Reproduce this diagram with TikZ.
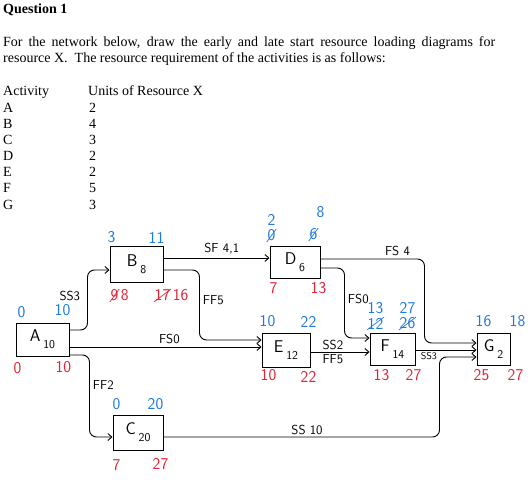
\documentclass[tikz,border=0pt]{standalone}
\usepackage{fontspec}
\setmainfont{Liberation Serif}
\usetikzlibrary{arrows.meta}
\usetikzlibrary{positioning}
\usetikzlibrary{calc}
\usetikzlibrary{shapes.misc}

\definecolor{earlyblue}{RGB}{28,120,226}
\definecolor{latered}{RGB}{226,34,50}
\newcommand{\dur}[1]{\,\raisebox{-7pt}{\fontsize{12}{12}\selectfont #1}}

\begin{document}
\begin{tikzpicture}[x=1pt,y=-1pt,>={Straight Barb[length=4pt,width=7pt]},
                    txt/.style={anchor=base west,inner sep=0,font=\fontsize{14}{16}\selectfont},
                    act/.style={draw,line width=1pt,inner sep=0,font=\sffamily\fontsize{17}{17}\selectfont},
                    link/.style={->,line width=0.9pt,rounded corners=7pt},
                    rel/.style={font=\sffamily\fontsize{13}{13}\selectfont,inner sep=1pt},
                    early/.style={text=earlyblue,font=\sffamily\fontsize{16.5}{16.5}\selectfont,inner sep=0.5pt},
                    late/.style={early,text=latered},
                    xout/.style={strike out,draw=#1,line width=0.7pt},
                    ]
    \useasboundingbox (0,0) rectangle (528,484);

    % question text and resource table
    \node[txt,font=\bfseries\fontsize{14}{16}\selectfont] (title) at (3,14) {Question 1};
    \node[txt] (intro1) at (3,47) {\makebox[492pt][s]{For the network below, draw the early and late start resource loading diagrams for}};
    \node[txt] (intro2) at (3,63) {resource X.\ \ The resource requirement of the activities is as follows:};
    \node[txt] (colact) at (3,96) {Activity};
    \node[txt] (colunit) at (88,96) {Units of Resource X};
    \foreach \act/\units [count=\i] in {A/2,B/4,C/3,D/2,E/2,F/5,G/3}{
      \node[txt] (row\act) at (3,96+16.15*\i) {\act};
      \node[txt] (val\act) at (89,96+16.15*\i) {\units};
    }

    % activities
    \node[act,minimum width=53pt,minimum height=33pt] (a) at (42.5,339.5) {A\dur{10}};
    \node[act,minimum width=53pt,minimum height=35pt] (b) at (136.5,264.5) {B\dur{8}};
    \node[act,minimum width=50pt,minimum height=35pt] (c) at (138,432.5) {C\dur{20}};
    \node[act,minimum width=50pt,minimum height=31pt] (d) at (295,262.5) {D\dur{6}};
    \node[act,minimum width=48pt,minimum height=34pt] (e) at (286,350) {E\dur{12}};
    \node[act,minimum width=45pt,minimum height=32pt] (f) at (392.5,349) {F\dur{14}};
    \node[act,minimum width=33pt,minimum height=32pt] (g) at (493.5,349) {G\dur{2}};

    % early times
    \node[early] (aes) at ([xshift=6pt,yshift=10pt]a.north west) {0};
    \node[early] (aef) at ([xshift=-7pt,yshift=12pt]a.north east) {10};
    \node[early] (bes) at ([xshift=2pt,yshift=9pt]b.north west) {3};
    \node[early] (bef) at ([xshift=-7pt,yshift=9pt]b.north east) {11};
    \node[early] (ces) at ([xshift=4pt,yshift=10pt]c.north west) {0};
    \node[early] (cef) at ([xshift=-8pt,yshift=10pt]c.north east) {20};
    \node[early,xout=earlyblue] (desold) at ([xshift=2pt,yshift=11pt]d.north west) {0};
    \node[early,above=3pt of desold] (des) {2};
    \node[early,xout=earlyblue] (defold) at ([xshift=-7pt,yshift=12pt]d.north east) {6};
    \node[early] (def) at ([xshift=7pt,yshift=22pt]defold.center) {8};
    \node[early,xout=earlyblue] (fesold) at ([xshift=6pt,yshift=9pt]f.north west) {12};
    \node[early,above=3pt of fesold] (fes) {13};
    \node[early,xout=earlyblue] (fefold) at ([xshift=-8pt,yshift=9pt]f.north east) {26};
    \node[early,above=3pt of fefold] (fef) {27};
    \node[early] (ees) at ([xshift=6pt,yshift=11pt]e.north west) {10};
    \node[early] (eef) at ([xshift=-2pt,yshift=11pt]e.north east) {22};
    \node[early] (ges) at ([xshift=7pt,yshift=11pt]g.north west) {16};
    \node[early] (gef) at ([xshift=7pt,yshift=11pt]g.north east) {18};

    % late times
    \node[late] (als) at ([xshift=2pt,yshift=-12pt]a.south west) {0};
    \node[late] (alf) at ([xshift=-6pt,yshift=-11pt]a.south east) {10};
    \node[late,xout=latered] (blsold) at ([xshift=5pt,yshift=-13pt]b.south west) {9};
    \node[late,right=1pt of blsold] (bls) {8};
    \node[late,xout=latered] (blfold) at ([xshift=-1pt,yshift=-13pt]b.south east) {17};
    \node[late,right=1pt of blfold] (blf) {16};
    \node[late] (cls) at ([xshift=4pt,yshift=-15pt]c.south west) {7};
    \node[late] (clf) at ([xshift=-3pt,yshift=-14pt]c.south east) {27};
    \node[late] (dls) at ([xshift=4pt,yshift=-10pt]d.south west) {7};
    \node[late] (dlf) at ([xshift=-2pt,yshift=-10pt]d.south east) {13};
    \node[late] (els) at ([xshift=7pt,yshift=-8pt]e.south west) {10};
    \node[late] (elf) at ([xshift=-2pt,yshift=-9pt]e.south east) {22};
    \node[late] (fls) at ([xshift=12pt,yshift=-10pt]f.south west) {13};
    \node[late] (flf) at ([xshift=-2pt,yshift=-10pt]f.south east) {27};
    \node[late] (gls) at ([xshift=5pt,yshift=-10pt]g.south west) {25};
    \node[late] (glf) at ([xshift=5pt,yshift=-10pt]g.south east) {27};

    % relations
    \draw[link] ([yshift=9.5pt]a.east) -| ([xshift=-22pt,yshift=-5.5pt]b.west)
                node[rel,pos=0.78,left=6pt] (ab) {SS3} -- ([yshift=-5.5pt]b.west);
    \draw[link] ([yshift=-7.5pt]a.east) -- ([yshift=3pt]e.west)
                node[rel,pos=0.52,above=2pt] (ae) {FS0};
    \draw[link] ([yshift=-15.5pt]a.east) -| ([xshift=-23pt,yshift=-4.5pt]c.west)
                node[rel,pos=0.68,right=2pt] (ac) {FF2} -- ([yshift=-4.5pt]c.west);
    \draw[link] ([yshift=6.5pt]b.east) -- ([yshift=4.5pt]d.west)
                node[rel,pos=0.55,above=2pt] (bd) {SF 4,1};
    \draw[link] ([yshift=-5.5pt]b.east) -| ([xshift=-62pt,yshift=10pt]e.west)
                node[rel,pos=0.715,right=2pt] (be) {FF5} -- ([yshift=10pt]e.west);
    \draw[link] ([yshift=-5.5pt]d.east) -| ([xshift=-25pt,yshift=11pt]f.west)
                node[rel,pos=0.72,right=2pt] (df) {FS0} -- ([yshift=11pt]f.west);
    \draw[link] ([yshift=3.5pt]d.east) -| ([xshift=-52pt,yshift=6pt]g.west)
                node[rel,pos=0.37,above=2pt] (dg) {FS 4} -- ([yshift=6pt]g.west);
    \draw[link] ([yshift=-2pt]e.east) -- ([yshift=-3pt]f.west)
                node[rel,pos=0.38,above=1pt] (efss) {SS2}
                node[rel,pos=0.38,below=1pt] (efff) {FF5};
    \draw[link] ([yshift=-1pt]f.east) -- ([yshift=-1pt]g.west)
                node[rel,pos=0.22,below=1pt,font=\sffamily\fontsize{10}{10}\selectfont] (fg) {SS3};
    \draw[link] ([yshift=-4.5pt]c.east) -| ([xshift=-37pt,yshift=-8pt]g.west)
                node[rel,pos=0.26,above=1pt] (cg) {SS 10} -- ([yshift=-8pt]g.west);
\end{tikzpicture}
\end{document}
